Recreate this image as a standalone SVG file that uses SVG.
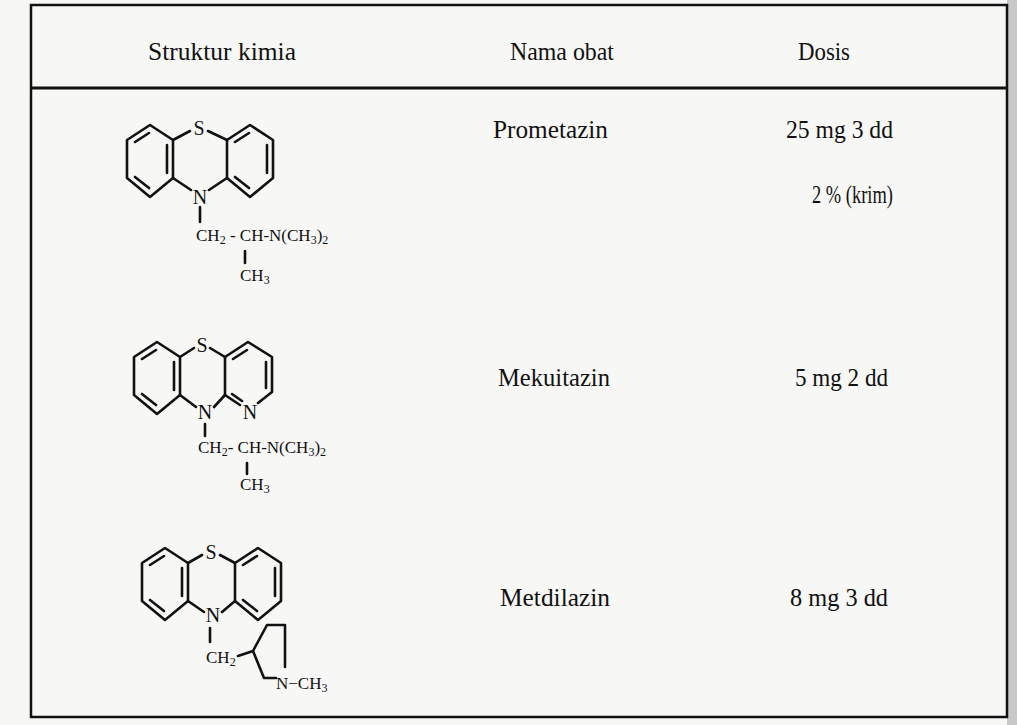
<svg xmlns="http://www.w3.org/2000/svg" width="1017" height="725" viewBox="0 0 1017 725">
<style>
.b{stroke:#111;stroke-width:2.6;fill:none;stroke-linecap:round;stroke-linejoin:round}
.t{font-family:"Liberation Serif",serif;font-size:25px;fill:#111}
.c{font-family:"Liberation Serif",serif;font-size:17px;fill:#111}
.a{font-family:"Liberation Serif",serif;font-size:20px;fill:#111;text-anchor:middle}
.s{font-size:12px}
</style>
<rect width="1017" height="725" fill="#f7f7f5"/>
<rect x="1007" y="0" width="10" height="725" fill="#c8c8c8"/>
<g id="table">
<rect x="31" y="5" width="976" height="712" fill="none" stroke="#111" stroke-width="2.5"/>
<line x1="31" y1="88" x2="1007" y2="88" stroke="#111" stroke-width="3"/>
</g>
<g id="header">
<text class="t" x="148" y="60" textLength="148" lengthAdjust="spacingAndGlyphs">Struktur kimia</text>
<text class="t" x="510" y="60" textLength="104" lengthAdjust="spacingAndGlyphs">Nama obat</text>
<text class="t" x="798" y="60" textLength="52" lengthAdjust="spacingAndGlyphs">Dosis</text>
</g>
<g id="row1">
<text class="t" x="493" y="138" textLength="115" lengthAdjust="spacingAndGlyphs">Prometazin</text>
<text class="t" x="786" y="138" textLength="107" lengthAdjust="spacingAndGlyphs">25 mg 3 dd</text>
<text class="t" x="812" y="203" textLength="81" lengthAdjust="spacingAndGlyphs">2 % (krim)</text>
</g>
<g id="row2">
<text class="t" x="498" y="386" textLength="112" lengthAdjust="spacingAndGlyphs">Mekuitazin</text>
<text class="t" x="795" y="386" textLength="93" lengthAdjust="spacingAndGlyphs">5 mg 2 dd</text>
</g>
<g id="row3">
<text class="t" x="500" y="606" textLength="110" lengthAdjust="spacingAndGlyphs">Metdilazin</text>
<text class="t" x="790" y="606" textLength="98" lengthAdjust="spacingAndGlyphs">8 mg 3 dd</text>
</g>
<g id="prometazin">
<path class="b" d="M150 125 L173 140 L173 178 L150 197 L127 178 L127 140 Z"/>
<path class="b" d="M250 125 L273 140 L273 178 L250 197 L227 178 L227 140 Z"/>
<path class="b" d="M135 142 L149 133 M167 145 L167 173 M135 177 L149 188 M235 142 L249 133 M267 145 L267 173 M235 177 L249 188"/>
<path class="b" d="M173 140 L190 131 M208 131 L227 140 M173 178 L191 190 M209 190 L227 178 M200 207 L200 222 M245 251 L245 263"/>
<text class="a" x="199" y="135">S</text>
<text class="a" x="200" y="204">N</text>
<text class="c" x="196" y="241">CH<tspan class="s" dy="3">2</tspan><tspan dy="-3"> - CH-N(CH</tspan><tspan class="s" dy="3">3</tspan><tspan dy="-3">)</tspan><tspan class="s" dy="3">2</tspan></text>
<text class="c" x="240" y="281">CH<tspan class="s" dy="3">3</tspan></text>
</g>
<g id="mekuitazin">
<path class="b" d="M157 342 L180 357 L180 395 L157 414 L134 395 L134 357 Z"/>
<path class="b" d="M225 357 L248 342 L272 357 L272 392 L258 403 M240 405 L225 395 Z"/>
<path class="b" d="M225 357 L225 395"/>
<path class="b" d="M142 359 L156 350 M174 362 L174 390 M142 394 L156 405 M233 359 L247 350 M266 362 L266 388 M232 394 L242 401"/>
<path class="b" d="M180 357 L194 348 M210 348 L225 357 M180 395 L196 407 M214 407 L225 395 M205 424 L205 436 M247 463 L247 474"/>
<text class="a" x="202" y="352">S</text>
<text class="a" x="205" y="419">N</text>
<text class="a" x="250" y="419">N</text>
<text class="c" x="198" y="453">CH<tspan class="s" dy="3">2</tspan><tspan dy="-3">- CH-N(CH</tspan><tspan class="s" dy="3">3</tspan><tspan dy="-3">)</tspan><tspan class="s" dy="3">2</tspan></text>
<text class="c" x="240" y="490">CH<tspan class="s" dy="3">3</tspan></text>
</g>
<g id="metdilazin">
<path class="b" d="M165 548 L188 563 L188 601 L165 620 L142 601 L142 563 Z"/>
<path class="b" d="M258 548 L281 563 L281 601 L258 620 L235 601 L235 563 Z"/>
<path class="b" d="M150 565 L164 556 M182 568 L182 596 M150 600 L164 611 M243 565 L257 556 M275 568 L275 596 M243 600 L257 611"/>
<path class="b" d="M188 563 L202 555 M220 555 L235 563 M188 601 L204 612 M222 612 L235 601 M210 628 L210 642"/>
<path class="b" d="M238 656 L253 651 L267 625 L285 625 L285 667 M276 678 L264 678 L253 651"/>
<text class="a" x="211" y="559">S</text>
<text class="a" x="213" y="622">N</text>
<text class="c" x="206" y="663">CH<tspan class="s" dy="3">2</tspan></text>
<text class="c" x="276" y="689">N−CH<tspan class="s" dy="3">3</tspan></text>
</g>
</svg>
